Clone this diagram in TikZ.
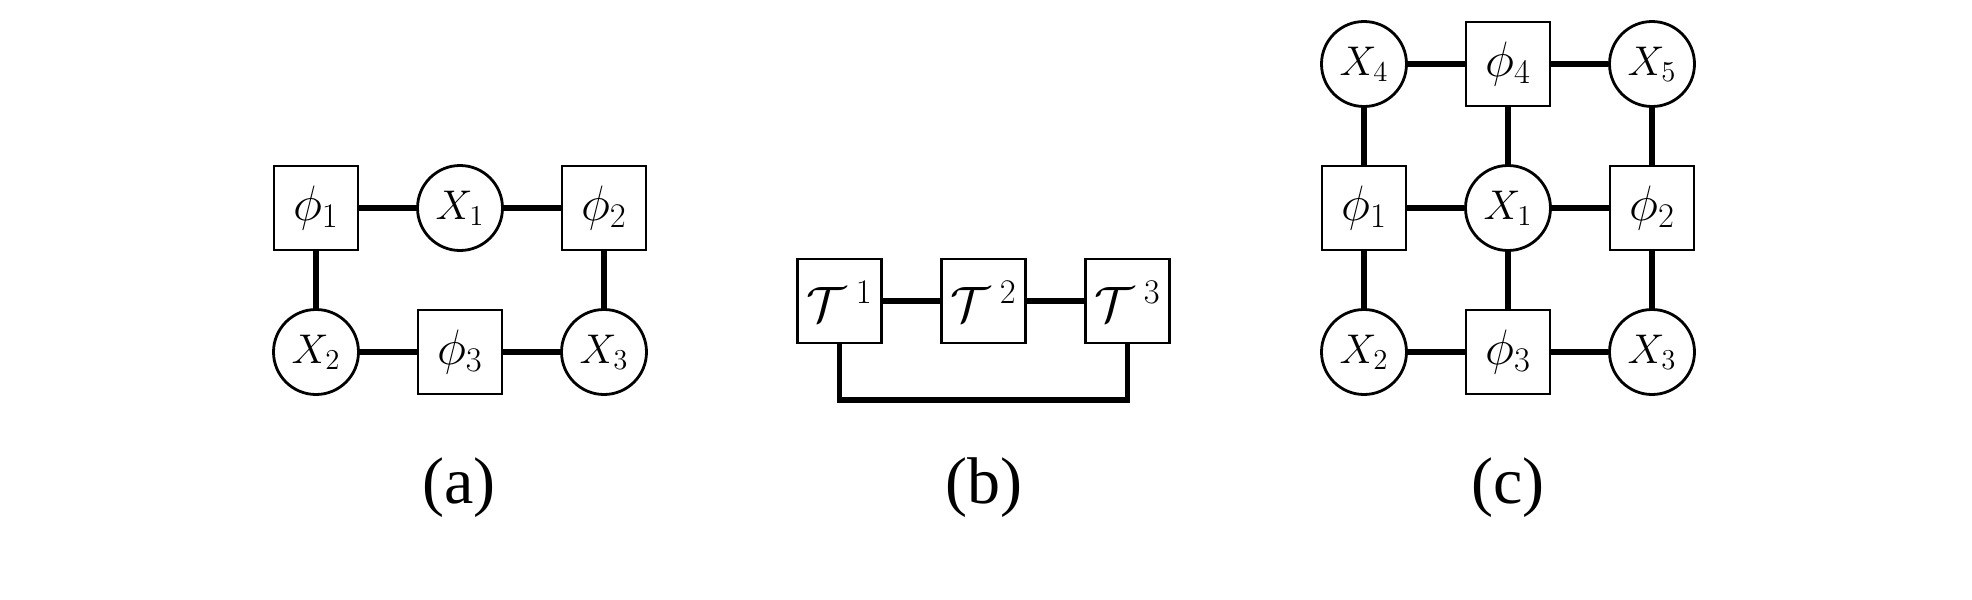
\documentclass[tikz,border=0pt]{standalone}
\usepackage{fontspec}
\newfontfamily\capfont{Liberation Serif}
\DeclareMathSizes{19.5}{19.5}{13.4}{10}
\DeclareMathSizes{25.5}{25.5}{16.6}{12}
\DeclareMathSizes{29}{29}{19}{13}
\tikzset{
  fac/.style={draw, line width=1.4pt, minimum size=42pt, inner sep=0pt, font=\fontsize{25.5}{30}\selectfont},
  tfac/.style={fac, font=\fontsize{29}{34}\selectfont},
  var/.style={circle, draw, line width=1.4pt, minimum size=42.5pt, inner sep=0pt, font=\fontsize{19.5}{24}\selectfont},
  edge/.style={line width=2.8pt},
  sublabel/.style={font=\capfont\fontsize{33}{40}\selectfont, anchor=base, inner sep=0pt}
}
\begin{document}
\begin{tikzpicture}[x=0.5pt,y=-0.5pt]
\useasboundingbox (0,0) rectangle (1972,600);
% panel (a)
\node[fac] (aF1) at (316,208) {$\phi_1$};
\node[var] (aX1) at (460,208) {$X_1$};
\node[fac] (aF2) at (604,208) {$\phi_2$};
\node[var] (aX2) at (316,352) {$X_2$};
\node[fac] (aF3) at (460,352) {$\phi_3$};
\node[var] (aX3) at (604,352) {$X_3$};
\draw[edge] (aF1) -- (aX1);
\draw[edge] (aX1) -- (aF2);
\draw[edge] (aF1) -- (aX2);
\draw[edge] (aF2) -- (aX3);
\draw[edge] (aX2) -- (aF3);
\draw[edge] (aF3) -- (aX3);
\node[sublabel] (la) at (459,503) {(a)};
% panel (b)
\node[tfac] (bT1) at (839.5,301) {$\mathcal{T}^{\mkern5mu 1}$};
\node[tfac] (bT2) at (983.5,301) {$\mathcal{T}^{\mkern5mu 2}$};
\node[tfac] (bT3) at (1127.5,301) {$\mathcal{T}^{\mkern5mu 3}$};
\coordinate (bb) at (983.5,400);
\draw[edge] (bT1) -- (bT2);
\draw[edge] (bT2) -- (bT3);
\draw[edge] (bT1.south) |- (bb) -| (bT3.south);
\node[sublabel] (lb) at (984,503) {(b)};
% panel (c)
\node[var] (cX4) at (1364,64) {$X_4$};
\node[fac] (cF4) at (1508,64) {$\phi_4$};
\node[var] (cX5) at (1652,64) {$X_5$};
\node[fac] (cF1) at (1364,208) {$\phi_1$};
\node[var] (cX1) at (1508,208) {$X_1$};
\node[fac] (cF2) at (1652,208) {$\phi_2$};
\node[var] (cX2) at (1364,352) {$X_2$};
\node[fac] (cF3) at (1508,352) {$\phi_3$};
\node[var] (cX3) at (1652,352) {$X_3$};
\draw[edge] (cX4) -- (cF4);
\draw[edge] (cF4) -- (cX5);
\draw[edge] (cX4) -- (cF1);
\draw[edge] (cF4) -- (cX1);
\draw[edge] (cX5) -- (cF2);
\draw[edge] (cF1) -- (cX1);
\draw[edge] (cX1) -- (cF2);
\draw[edge] (cF1) -- (cX2);
\draw[edge] (cX1) -- (cF3);
\draw[edge] (cF2) -- (cX3);
\draw[edge] (cX2) -- (cF3);
\draw[edge] (cF3) -- (cX3);
\node[sublabel] (lc) at (1508,503) {(c)};
\end{tikzpicture}
\end{document}
